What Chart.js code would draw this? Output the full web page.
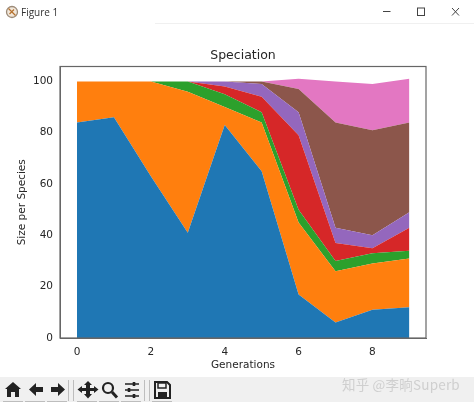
<!DOCTYPE html>
<html><head><meta charset="utf-8">
<script src="https://cdn.jsdelivr.net/npm/chart.js@4"></script>
<style>
html,body{margin:0;padding:0;background:#fff;width:474px;height:402px;overflow:hidden;font-family:"DejaVu Sans",sans-serif}
#wrap{position:absolute;left:0;top:0;width:474px;height:402px}
canvas{position:absolute;left:0;top:0}
.abs{position:absolute}
#bar{left:0;top:377px;width:474px;height:25px;background:#f0f0f0}
#wm{left:342px;top:374px;font:13.5px "Noto Sans CJK SC","Noto Sans",sans-serif;color:#cfcfcf;white-space:nowrap;letter-spacing:.2px}
</style></head><body>
<div id="wrap">
<canvas id="c" width="474" height="402"></canvas>
<svg class="abs" style="left:5px;top:4px" width="14" height="16" viewBox="0 0 14 16"><circle cx="7" cy="8" r="5.500" fill="#f1e7da" stroke="#9b8a78" stroke-width="1.300"/><path d="M3.500 4.500L10.500 11.500M4.500 10L9 5.500" stroke="#b5702c" stroke-width="1.200"/></svg>
<div class="abs" style="left:21px;top:5px;font:10px 'Open Sans',sans-serif;color:#333">Figure 1</div>
<div class="abs" style="left:155px;top:23px;width:319px;height:1px;background:#f0f0f0"></div>
<svg class="abs" style="left:380px;top:4px" width="90" height="16" viewBox="0 0 90 16" fill="none" stroke="#444" stroke-width="1"><path d="M3 7.500H10.500"/><rect x="37.500" y="4" width="7" height="7.500"/><path d="M72 4L79 11.500M79 4L72 11.500"/></svg>
<div class="abs" id="bar"></div>
<svg class="abs" style="left:0;top:377px" width="180" height="25" viewBox="0 0 180 25">
<g fill="none" stroke="#bdbdbd"><path d="M3 24.500H23M25 24.500H45M47 24.500H67M77 24.500H97M99 24.500H119M121 24.500H141M152 24.500H172"/><path d="M68.500 3V24M73.500 3V24M144.500 3V24M149.500 3V24" /></g>
<path fill="#222" d="M13 5L21 12H19V20H15V15H11V20H7V12H5Z"/>
<path fill="#222" d="M29 12.500L36 6V10H43V15H36V19Z"/>
<path fill="#222" d="M65 12.500L58 6V10H51V15H58V19Z"/>
<path fill="#222" d="M87 4L91 8H89V11H93V9L97.500 12.500L93 16V14H89V17H91L87 21.500L83 17H85V14H81V16L76.500 12.500L81 9V11H85V8H83Z" transform="translate(1 0)"/>
<circle cx="108" cy="11" r="5" fill="none" stroke="#222" stroke-width="2.200"/><path d="M112 15L117 20.500" stroke="#222" stroke-width="3"/>
<path d="M125 7H139M125 13H139M125 19H139" stroke="#222" stroke-width="1.600"/><path d="M134 5V9M129 11V15M134 17V21" stroke="#222" stroke-width="2.600"/>
<path d="M155 5H167L170 8V21H155Z" fill="none" stroke="#222" stroke-width="2"/><rect x="158" y="6" width="8" height="5" fill="none" stroke="#222" stroke-width="1.500"/><rect x="158" y="15" width="9" height="6" fill="#222"/>
</svg>
<div class="abs" id="wm">知乎 @李晌Superb</div>
</div>
<script>
const generations = [0,1,2,3,4,5,6,7,8,9];
const species1 = [84,86,63,41,83,65,17,6,11,12];
const species2 = [16,14,37,55,7,19,28,20,18,19];
const species3 = [0,0,0,4,5,4,5,4,4,3];
const species4 = [0,0,0,0,3,6,29,7,2,9];
const species5 = [0,0,0,0,2,5,9,6,5,6];
const species6 = [0,0,0,0,0,1,9,41,41,35];
const species7 = [0,0,0,0,0,0,4,16,18,17];
const seriesList = [species1,species2,species3,species4,species5,species6,species7];
const colors = ['#1f77b4','#ff7f0e','#2ca02c','#d62728','#9467bd','#8c564b','#e377c2'];
const xTicks = [0,2,4,6,8];
const yTicks = [0,20,40,60,80,100];
const font = {family:'"DejaVu Sans"',size:10.5};
const ink = '#262626';
const frame = {id:'frame',afterDatasetsDraw(ch){const a=ch.chartArea,c=ch.ctx;c.save();c.strokeStyle='#666';c.lineWidth=1.2;c.strokeRect(a.left,a.top,a.right-a.left,a.bottom-a.top);c.restore();}};
new Chart(document.getElementById('c'),{
  type:'line',
  data:{datasets:seriesList.map((s,i)=>({
    label:'Species '+(i+1),
    data:s.map((v,j)=>({x:generations[j],y:v})),
    backgroundColor:colors[i],borderColor:colors[i],borderWidth:0,pointRadius:0,
    fill:i===0?'origin':'-1',tension:0,stack:'s'
  }))},
  options:{
    responsive:false,animation:false,
    layout:{padding:{left:16,right:48,top:0,bottom:30}},
    plugins:{
      legend:{display:false},tooltip:{enabled:false},
      title:{display:true,text:'Speciation',fullSize:false,color:ink,font:{family:'"DejaVu Sans"',size:12.500,weight:'normal'},padding:{top:48,bottom:3.500}}
    },
    scales:{
      x:{type:'linear',min:-0.46,max:9.45,
        afterBuildTicks(ax){ax.ticks=xTicks.map(v=>({value:v}));},
        afterFit(ax){ax.height=34;},
        grid:{display:false,drawTicks:true,tickLength:4,tickColor:'#444'},border:{color:'#666'},
        ticks:{color:ink,font,maxRotation:0,padding:4},
        title:{display:true,text:'Generations',color:ink,font,padding:{top:3,bottom:0}}},
      y:{type:'linear',stacked:true,min:0,max:105.8,
        afterBuildTicks(ax){ax.ticks=yTicks.map(v=>({value:v}));},
        afterFit(ax){ax.width=44;},
        grid:{display:false,drawTicks:true,tickLength:4,tickColor:'#444'},border:{color:'#666'},
        ticks:{color:ink,font,padding:3},
        title:{display:true,text:'Size per Species',color:ink,font,padding:{top:0,bottom:4}}}
    }
  },
  plugins:[frame]
});
</script></body></html>
